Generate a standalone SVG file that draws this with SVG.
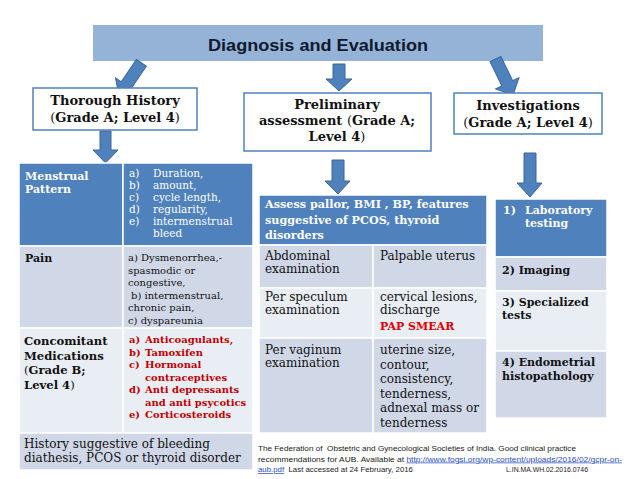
<svg xmlns="http://www.w3.org/2000/svg" width="638" height="479" viewBox="0 0 638 479">
<defs>
<style>
.bx{fill:#fff;stroke:#4f81bd;stroke-width:1.5}
.hd{fill:#4f81bd}
.r1{fill:#d0d8e8}
.r2{fill:#e9edf4}
.cell{stroke:#fff;stroke-width:1.5}
.ar{fill:#4f81bd;stroke:#3a679c;stroke-width:1}
.t{font-family:"DejaVu Serif","Liberation Serif",serif;font-size:11px;fill:#111}
.b{font-weight:bold}
.w{fill:#fff}
.red{fill:#c00000;font-weight:bold}
.bt{font-family:"DejaVu Serif","Liberation Serif",serif;font-size:13px;font-weight:bold;fill:#111;text-anchor:middle}
.n{font-weight:normal;fill:#111}
.s10{font-size:10px}
.s105{font-size:10.5px}
.s112{font-size:11.2px}
.s116{font-size:11.6px}
.s12{font-size:12px}
.fn{font-family:"Liberation Sans",Arial,sans-serif;font-size:7.5px;fill:#222}
.lk{fill:#2a4fc0;text-decoration:underline}
</style>
<path id="arr" d="M-6,-40 L6,-40 L6,-13 L13,-13 L0,0 L-13,-13 L-6,-13 Z"/>
</defs>
<rect width="638" height="479" fill="#fff"/>

<g id="banner">
<rect x="93" y="25" width="450" height="36" fill="#95b3d7"/>
<text x="318" y="51" text-anchor="middle" font-family="Liberation Sans,Arial,sans-serif" font-size="16" font-weight="bold" fill="#10182e" textLength="220" lengthAdjust="spacingAndGlyphs">Diagnosis and Evaluation</text>
</g>

<g id="connectors">
<use href="#arr" class="ar" transform="translate(119,96) rotate(34)"/>
<path class="ar" d="M333,64 L345,64 L345,79 L352,79 L339,91 L326,79 L333,79 Z"/>
<use href="#arr" class="ar" transform="translate(513,95) rotate(-26)"/>
<path class="ar" d="M100,131 L111,131 L111,150 L118,150 L105.5,163 L93,150 L100,150 Z"/>
<path class="ar" d="M332,160 L344,160 L344,181 L350,181 L338,194 L325,181 L332,181 Z"/>
<path class="ar" d="M524,153 L536,153 L536,183 L542,183 L530,197 L517,183 L524,183 Z"/>
</g>

<g id="history-box">
<rect class="bx" x="33" y="88" width="164" height="42"/>
<text class="bt" x="115" y="105">Thorough History</text>
<text class="bt" x="115" y="122"><tspan class="n">(</tspan>Grade A; Level 4<tspan class="n">)</tspan></text>
</g>

<g id="preliminary-box">
<rect class="bx" x="244" y="93" width="187" height="58"/>
<text class="bt" x="337" y="109">Preliminary</text>
<text class="bt" x="337" y="125">assessment <tspan class="n">(</tspan>Grade A;</text>
<text class="bt" x="337" y="141">Level 4<tspan class="n">)</tspan></text>
</g>

<g id="investigations-box">
<rect class="bx" x="454" y="93" width="148" height="41"/>
<text class="bt" x="528" y="110">Investigations</text>
<text class="bt" x="528" y="127"><tspan class="n">(</tspan>Grade A; Level 4<tspan class="n">)</tspan></text>
</g>

<g id="history-table">
<rect class="hd cell" x="19" y="163" width="104" height="83"/>
<rect class="hd cell" x="123" y="163" width="130" height="83"/>
<rect class="r1 cell" x="19" y="246" width="104" height="82"/>
<rect class="r1 cell" x="123" y="246" width="130" height="82"/>
<rect class="r2 cell" x="19" y="328" width="104" height="105"/>
<rect class="r2 cell" x="123" y="328" width="130" height="105"/>
<rect class="r1 cell" x="19" y="433" width="234" height="37"/>
<text class="t b w" x="25" y="180">Menstrual</text>
<text class="t b w" x="25" y="193">Pattern</text>
<g class="t w s105">
<text x="129" y="177">a)</text><text x="153" y="177">Duration,</text>
<text x="129" y="189">b)</text><text x="153" y="189">amount,</text>
<text x="129" y="201">c)</text><text x="153" y="201">cycle length,</text>
<text x="129" y="213">d)</text><text x="153" y="213">regularity,</text>
<text x="129" y="225">e)</text><text x="153" y="225">intermenstrual</text>
<text x="153" y="237">bleed</text>
</g>
<text class="t b" x="25" y="262">Pain</text>
<g class="t s10">
<text x="128" y="261">a) Dysmenorrhea,-</text>
<text x="128" y="273.5">spasmodic or</text>
<text x="128" y="286">congestive,</text>
<text x="131" y="298.5">b) intermenstrual,</text>
<text x="128" y="311">chronic pain,</text>
<text x="128" y="323.5">c) dyspareunia</text>
</g>
<g class="t b s116">
<text x="24" y="345">Concomitant</text>
<text x="24" y="359.5">Medications</text>
<text x="24" y="374"><tspan class="n">(</tspan>Grade B;</text>
<text x="24" y="388.5">Level 4<tspan class="n">)</tspan></text>
</g>
<g class="t red s10">
<text x="129" y="343">a)</text><text x="145" y="343">Anticoagulants,</text>
<text x="129" y="355.5">b)</text><text x="145" y="355.5">Tamoxifen</text>
<text x="129" y="368">c)</text><text x="145" y="368">Hormonal</text>
<text x="145" y="380.5">contraceptives</text>
<text x="129" y="393">d)</text><text x="145" y="393">Anti depressants</text>
<text x="145" y="405.5">and anti psycotics</text>
<text x="129" y="418">e)</text><text x="145" y="418">Corticosteroids</text>
</g>
<g class="t s12">
<text x="24" y="448">History suggestive of bleeding</text>
<text x="24" y="462">diathesis, PCOS or thyroid disorder</text>
</g>
</g>

<g id="assessment-table">
<rect class="hd cell" x="259" y="195" width="228" height="50"/>
<rect class="r1 cell" x="259" y="245" width="114" height="43"/>
<rect class="r1 cell" x="373" y="245" width="114" height="43"/>
<rect class="r2 cell" x="259" y="288" width="114" height="50"/>
<rect class="r2 cell" x="373" y="288" width="114" height="50"/>
<rect class="r1 cell" x="259" y="338" width="114" height="95"/>
<rect class="r1 cell" x="373" y="338" width="114" height="95"/>
<g class="t b w s112">
<text x="265" y="208">Assess pallor, BMI , BP, features</text>
<text x="265" y="224">suggestive of PCOS, thyroid</text>
<text x="265" y="239">disorders</text>
</g>
<g class="t s12">
<text x="265" y="260">Abdominal</text>
<text x="265" y="273">examination</text>
<text x="380" y="260">Palpable uterus</text>
<text x="265" y="301">Per speculum</text>
<text x="265" y="314">examination</text>
<text x="380" y="301">cervical lesions,</text>
<text x="380" y="314">discharge</text>
<text x="265" y="354">Per vaginum</text>
<text x="265" y="367">examination</text>
<text x="380" y="354">uterine size,</text>
<text x="380" y="368.5">contour,</text>
<text x="380" y="383">consistency,</text>
<text x="380" y="397.5">tenderness,</text>
<text x="380" y="412">adnexal mass or</text>
<text x="380" y="426.5">tenderness</text>
</g>
<text class="t red" x="380" y="330" style="fill:#e00000">PAP SMEAR</text>
</g>

<g id="investigations-table">
<rect class="hd cell" x="495" y="199" width="112" height="58"/>
<rect class="r1 cell" x="495" y="257" width="112" height="34"/>
<rect class="r2 cell" x="495" y="291" width="112" height="60"/>
<rect class="r1 cell" x="495" y="351" width="112" height="67"/>
<g class="t b w">
<text x="503" y="214">1)</text><text x="525" y="214">Laboratory</text>
<text x="525" y="227">testing</text>
</g>
<g class="t b">
<text x="502" y="274">2) Imaging</text>
<text x="502" y="306">3) Specialized</text>
<text x="502" y="319">tests</text>
<text x="502" y="366">4) Endometrial</text>
<text x="502" y="380">histopathology</text>
</g>
</g>

<g id="footnote">
<text class="fn" x="258" y="451" textLength="318" lengthAdjust="spacingAndGlyphs" xml:space="preserve">The Federation of  Obstetric and Gynecological Societies of India. Good clinical practice</text>
<text class="fn" x="258" y="461.5" textLength="364" lengthAdjust="spacingAndGlyphs">recommendations for AUB. Available at <tspan class="lk">http://www.fogsi.org/wp-content/uploads/2016/02/gcpr-on-</tspan></text>
<text class="fn" x="258" y="472" textLength="155" lengthAdjust="spacingAndGlyphs" xml:space="preserve"><tspan class="lk">aub.pdf</tspan>  Last accessed at 24 February, 2016</text>
<text class="fn" x="506" y="472" font-size="5.5" textLength="82" lengthAdjust="spacingAndGlyphs">L.IN.MA.WH.02.2016.0746</text>
</g>
</svg>
